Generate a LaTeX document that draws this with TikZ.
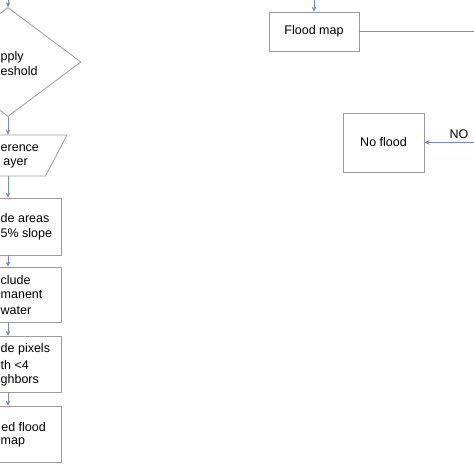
\documentclass[tikz,border=0pt]{standalone}
\usepackage{fontspec}
\setmainfont{Liberation Sans}
\usetikzlibrary{arrows.meta,shapes.geometric,positioning}

\definecolor{boxgray}{HTML}{9C9C9C}
\definecolor{linkblue}{HTML}{6F8EC4}

\begin{document}
\begin{tikzpicture}[x=1pt,y=-1pt,>={Stealth[length=5pt,width=4.5pt]},
    font=\fontsize{12.5}{15.5}\selectfont]
       \tikzstyle{box}=[draw=boxgray, line width=0.8pt, rectangle, minimum width=106pt]
       \tikzstyle{cut}=[anchor=west, inner sep=0pt]
       \tikzstyle{cutr}=[anchor=east, inner sep=0pt]
       \tikzstyle{link}=[draw=linkblue, line width=0.8pt]

       \useasboundingbox (0,0) rectangle (474,474);
       \clip (0,0) rectangle (474,474);

       % left column, cut off at the page edge
       \coordinate (in) at (8,-6);
       \node[diamond, draw=boxgray, line width=0.8pt, inner sep=0pt,
             minimum width=146pt, minimum height=109pt] (thr) at (8,62) {};
       \node[trapezium, trapezium stretches=true, trapezium left angle=74,
             trapezium right angle=106, draw=boxgray, line width=0.8pt,
             minimum width=118pt, minimum height=41pt] (ref) at (8,155.5) {};
       \node[box, minimum height=57pt] (slope) at (8,226.5) {};
       \node[box, minimum height=55pt] (perm) at (8,294.5) {};
       \node[box, minimum height=56pt] (nbr) at (8,364) {};
       \node[box, minimum height=56pt] (final) at (8,434) {};

       \node[cut] (thr_a) at (0.5,57) {pply};
       \node[cut] (thr_b) at (0.5,71) {eshold};
       \node[cut] (ref_a) at (0.5,148) {erence};
       \node[cutr] (ref_b) at (28,163) {ayer};
       \node[cut] (slope_a) at (0.5,218) {de areas};
       \node[cut] (slope_b) at (0.5,234) {5\% slope};
       \node[cut] (perm_a) at (0.5,280) {clude};
       \node[cut] (perm_b) at (0.5,295) {manent};
       \node[cut] (perm_c) at (0.5,311) {water};
       \node[cut] (nbr_a) at (0.5,349) {de pixels};
       \node[cutr] (nbr_b) at (29,365) {th <4};
       \node[cut] (nbr_c) at (0.5,380) {ghbors};
       \node[cutr] (final_a) at (46,427) {ed flood};
       \node[cut] (final_b) at (0.5,442) {map};

       % right side
       \coordinate (fin) at (314,-6);
       \node[box, minimum width=90pt, minimum height=39pt] (fmap) at (314,31.5) {Flood map};
       \coordinate (fout) at (482,31.5);
       \node[box, minimum width=81pt, minimum height=59pt] (noflood) at (383.5,142.5) {No flood};
       \coordinate (nin) at (482,142.5);

       \path[->, link]
       (in) edge (thr)
       (thr) edge (ref)
       (ref) edge (slope)
       (slope) edge (perm)
       (perm) edge (nbr)
       (nbr) edge (final)
       (fin) edge (fmap)
       (nin) edge node[pos=0.4, above=3.5pt, inner sep=0pt, text=black] (no) {NO} (noflood);

       \draw[link] (fmap) -- (fout);
     \end{tikzpicture}
\end{document}
